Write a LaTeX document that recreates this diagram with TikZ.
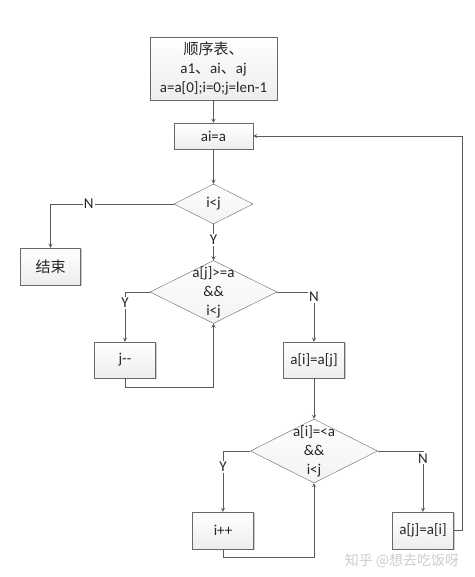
\documentclass[tikz,border=0pt]{standalone}
\usepackage{fontspec}
\setmainfont{Carlito}
\newfontfamily\cjk{Noto Sans CJK SC}
\usetikzlibrary{shapes.geometric, arrows, shadows}
\definecolor{boxgray}{RGB}{105,105,105}
\definecolor{linegray}{RGB}{90,90,90}
\tikzstyle{procbox} = [rectangle, draw=boxgray, top color=white, bottom color=gray!14, inner sep=0pt, drop shadow={shadow xshift=1pt, shadow yshift=-1pt, fill=gray!70, opacity=0.6}]
\tikzstyle{decision} = [diamond, draw=boxgray, top color=white, bottom color=gray!10, inner sep=0pt]
\tikzstyle{arrow} = [draw=linegray, line width=0.8pt, ->, >=stealth]
\tikzstyle{yn} = [fill=white, inner sep=1pt]

\begin{document}
\begin{tikzpicture}[x=1pt, y=1pt, node distance=68pt, font=\fontsize{15}{19}\selectfont, text=black!85]
      \useasboundingbox (0,0) rectangle (474,-577);
      \node (start) [procbox, minimum width=127pt, minimum height=63pt, align=center] at (213.5,-68.5) {{\cjk 顺序表、}\\a1{\cjk 、}ai{\cjk 、}aj\\a=a[0];i=0;j=len-1};
      \node (ai) [procbox, minimum width=79pt, minimum height=26pt, below of=start, yshift=0.5pt] {ai=a};
      \node (c1) [decision, minimum width=79pt, minimum height=40pt, below of=ai] {i<j};
      \node (stop) [procbox, minimum width=60pt, minimum height=37pt, below of=c1, xshift=-163pt, yshift=5.5pt] {\cjk 结束};
      \node (c2) [decision, minimum width=127pt, minimum height=63pt, below of=c1, yshift=-20pt, label={[align=center]center:a[j]>=a\\\&\&\\i<j}] {};
      \node (jdec) [procbox, minimum width=61pt, minimum height=36pt, below of=c2, xshift=-88.5pt] {j-{}-};
      \node (aij) [procbox, minimum width=61pt, minimum height=36pt, below of=c2, xshift=100.5pt] {a[i]=a[j]};
      \node (c3) [decision, minimum width=127pt, minimum height=64pt, below of=aij, yshift=-23pt, label={[align=center]center:a[i]=<a\\\&\&\\i<j}] {};
      \node (iinc) [procbox, minimum width=61pt, minimum height=37pt, below of=c3, xshift=-91pt, yshift=-11.5pt] {i++};
      \node (aji) [procbox, minimum width=61pt, minimum height=37pt, below of=c3, xshift=109pt, yshift=-11.5pt] {a[j]=a[i]};
      \node (mark) [text=gray!40, font=\cjk\fontsize{14}{14}\selectfont] at (402,-561) {知乎 @想去吃饭呀};
      \draw [arrow] (start) -- (ai);
      \draw [arrow] (ai) -- (c1);
      \draw [arrow] (c1.west) -| node [yn, pos=0.345] {N} (stop.north);
      \draw [arrow] (c1.south) -- node [yn, pos=0.44] {Y} (c2.north);
      \draw [arrow] (c2.west) -| node [yn, pos=0.61] {Y} (jdec.north);
      \draw [arrow] (jdec.south) -- ++(0,-9) -| (c2.south);
      \draw [arrow] (c2.east) -| node [yn, pos=0.55] {N} (aij.north);
      \draw [arrow] (aij) -- (c3);
      \draw [arrow] (c3.west) -| node [yn, pos=0.63] {Y} (iinc.north);
      \draw [arrow] (iinc.south) -- ++(0,-8) -| (c3.south);
      \draw [arrow] (c3.east) -| node [yn, pos=0.56] {N} (aji.north);
      \draw [arrow] (aji.east) -- ++(9,0) |- (ai.east);
    \end{tikzpicture}
\end{document}
